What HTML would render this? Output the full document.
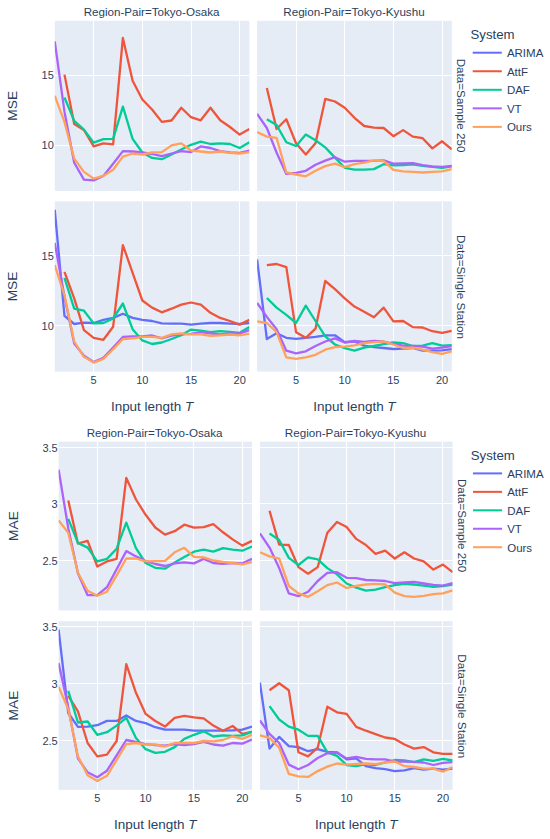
<!DOCTYPE html>
<html><head><meta charset="utf-8"><style>
html,body{margin:0;padding:0;background:#fff;}
svg{display:block;}
text{font-family:"Liberation Sans",sans-serif;}
</style></head><body>
<svg width="550" height="839" viewBox="0 0 550 839">
<rect width="550" height="839" fill="#fff"/>
<rect x="54.75" y="20.80" width="194.65" height="170.10" fill="#E5ECF6"/>
<rect x="93" y="20.80" width="1" height="170.10" fill="#fff"/>
<rect x="142" y="20.80" width="1" height="170.10" fill="#fff"/>
<rect x="191" y="20.80" width="1" height="170.10" fill="#fff"/>
<rect x="239" y="20.80" width="1" height="170.10" fill="#fff"/>
<rect x="54.75" y="75" width="194.65" height="1" fill="#fff"/>
<rect x="54.75" y="145" width="194.65" height="1" fill="#fff"/>
<clipPath id="c1"><rect x="54.75" y="20.80" width="194.65" height="170.10"/></clipPath>
<g clip-path="url(#c1)" fill="none" stroke-width="2.3" stroke-linejoin="round">
<polyline points="64.48,74.60 74.22,124.00 83.95,130.00 93.68,146.40 103.41,143.30 113.14,144.30 122.88,37.90 132.61,80.70 142.34,99.50 152.07,109.50 161.81,121.90 171.54,120.50 181.27,107.70 191.00,117.20 200.74,120.30 210.47,107.70 220.20,120.30 229.94,127.00 239.67,134.60 249.40,129.10" stroke="#EF553B"/>
<polyline points="64.48,97.50 74.22,120.90 83.95,129.60 93.68,142.60 103.41,139.20 113.14,138.80 122.88,106.60 132.61,138.80 142.34,152.50 152.07,157.90 161.81,159.20 171.54,154.50 181.27,149.50 191.00,144.80 200.74,141.70 210.47,144.00 220.20,143.30 229.94,144.00 239.67,148.00 249.40,142.30" stroke="#00cc96"/>
<polyline points="54.75,41.40 64.48,111.70 74.22,162.70 83.95,179.60 93.68,180.40 103.41,175.90 113.14,163.70 122.88,151.10 132.61,151.50 142.34,152.50 152.07,154.00 161.81,156.20 171.54,153.50 181.27,151.10 191.00,152.10 200.74,146.40 210.47,148.00 220.20,151.10 229.94,152.50 239.67,152.90 249.40,150.50" stroke="#ab63fa"/>
<polyline points="54.75,95.80 64.48,121.90 74.22,158.60 83.95,171.90 93.68,178.60 103.41,175.90 113.14,169.80 122.88,156.60 132.61,153.50 142.34,154.50 152.07,152.50 161.81,152.10 171.54,145.40 181.27,143.30 191.00,150.50 200.74,151.50 210.47,152.50 220.20,151.50 229.94,152.90 239.67,153.50 249.40,152.10" stroke="#FFA15A"/>
</g>
<rect x="257.10" y="20.80" width="194.70" height="170.10" fill="#E5ECF6"/>
<rect x="296" y="20.80" width="1" height="170.10" fill="#fff"/>
<rect x="344" y="20.80" width="1" height="170.10" fill="#fff"/>
<rect x="393" y="20.80" width="1" height="170.10" fill="#fff"/>
<rect x="442" y="20.80" width="1" height="170.10" fill="#fff"/>
<rect x="257.10" y="75" width="194.70" height="1" fill="#fff"/>
<rect x="257.10" y="145" width="194.70" height="1" fill="#fff"/>
<clipPath id="c2"><rect x="257.10" y="20.80" width="194.70" height="170.10"/></clipPath>
<g clip-path="url(#c2)" fill="none" stroke-width="2.3" stroke-linejoin="round">
<polyline points="266.84,87.90 276.57,129.00 286.31,119.30 296.04,143.30 305.78,154.50 315.51,143.30 325.25,98.90 334.98,101.50 344.72,107.70 354.45,117.80 364.19,126.00 373.92,127.60 383.66,128.00 393.39,136.20 403.12,130.10 412.86,136.60 422.60,138.20 432.33,148.40 442.06,141.30 451.80,149.40" stroke="#EF553B"/>
<polyline points="266.84,119.30 276.57,125.00 286.31,142.30 296.04,146.00 305.78,134.60 315.51,140.30 325.25,147.40 334.98,157.60 344.72,167.80 354.45,169.60 364.19,169.60 373.92,169.10 383.66,164.20 393.39,165.30 403.12,165.00 412.86,164.40 422.60,165.80 432.33,166.80 442.06,167.80 451.80,166.40" stroke="#00cc96"/>
<polyline points="257.10,113.80 266.84,128.00 276.57,152.50 286.31,173.90 296.04,172.90 305.78,170.80 315.51,164.70 325.25,160.60 334.98,157.20 344.72,161.70 354.45,160.90 364.19,160.90 373.92,160.90 383.66,160.40 393.39,163.60 403.12,163.30 412.86,163.10 422.60,165.20 432.33,166.40 442.06,166.80 451.80,165.80" stroke="#ab63fa"/>
<polyline points="257.10,132.10 266.84,136.60 276.57,137.80 286.31,172.50 296.04,174.50 305.78,176.30 315.51,170.80 325.25,166.10 334.98,163.70 344.72,167.20 354.45,164.20 364.19,162.70 373.92,160.30 383.66,161.00 393.39,169.80 403.12,171.30 412.86,171.90 422.60,172.50 432.33,171.90 442.06,171.30 451.80,169.20" stroke="#FFA15A"/>
</g>
<rect x="54.75" y="201.30" width="194.65" height="170.30" fill="#E5ECF6"/>
<rect x="93" y="201.30" width="1" height="170.30" fill="#fff"/>
<rect x="142" y="201.30" width="1" height="170.30" fill="#fff"/>
<rect x="191" y="201.30" width="1" height="170.30" fill="#fff"/>
<rect x="239" y="201.30" width="1" height="170.30" fill="#fff"/>
<rect x="54.75" y="255" width="194.65" height="1" fill="#fff"/>
<rect x="54.75" y="325" width="194.65" height="1" fill="#fff"/>
<clipPath id="c3"><rect x="54.75" y="201.30" width="194.65" height="170.30"/></clipPath>
<g clip-path="url(#c3)" fill="none" stroke-width="2.3" stroke-linejoin="round">
<polyline points="54.75,209.80 64.48,315.80 74.22,324.00 83.95,322.60 93.68,323.00 103.41,319.90 113.14,317.90 122.88,313.80 132.61,317.90 142.34,319.90 152.07,321.00 161.81,323.40 171.54,323.60 181.27,323.60 191.00,324.60 200.74,323.60 210.47,323.00 220.20,323.00 229.94,323.60 239.67,324.00 249.40,323.00" stroke="#636efa"/>
<polyline points="64.48,271.80 74.22,298.40 83.95,330.20 93.68,337.80 103.41,339.80 113.14,326.70 122.88,245.10 132.61,272.80 142.34,300.50 152.07,307.60 161.81,312.30 171.54,308.70 181.27,304.60 191.00,302.50 200.74,304.60 210.47,312.80 220.20,317.90 229.94,321.00 239.67,324.60 249.40,319.90" stroke="#EF553B"/>
<polyline points="64.48,277.90 74.22,308.70 83.95,310.70 93.68,323.40 103.41,323.00 113.14,318.50 122.88,303.50 132.61,329.20 142.34,340.40 152.07,344.00 161.81,342.50 171.54,339.00 181.27,335.30 191.00,329.60 200.74,330.60 210.47,332.20 220.20,331.20 229.94,331.80 239.67,332.80 249.40,327.10" stroke="#00cc96"/>
<polyline points="54.75,243.00 64.48,296.40 74.22,343.50 83.95,355.80 93.68,362.00 103.41,357.90 113.14,347.60 122.88,337.00 132.61,336.30 142.34,336.30 152.07,335.50 161.81,338.40 171.54,335.70 181.27,334.30 191.00,333.90 200.74,332.20 210.47,333.30 220.20,334.30 229.94,333.30 239.67,333.30 249.40,330.20" stroke="#ab63fa"/>
<polyline points="54.75,265.20 64.48,295.30 74.22,341.50 83.95,356.80 93.68,362.60 103.41,358.90 113.14,349.20 122.88,339.00 132.61,338.40 142.34,336.90 152.07,336.90 161.81,337.80 171.54,334.30 181.27,333.30 191.00,334.30 200.74,334.30 210.47,335.90 220.20,335.30 229.94,334.50 239.67,335.30 249.40,333.70" stroke="#FFA15A"/>
</g>
<rect x="257.10" y="201.30" width="194.70" height="170.30" fill="#E5ECF6"/>
<rect x="296" y="201.30" width="1" height="170.30" fill="#fff"/>
<rect x="344" y="201.30" width="1" height="170.30" fill="#fff"/>
<rect x="393" y="201.30" width="1" height="170.30" fill="#fff"/>
<rect x="442" y="201.30" width="1" height="170.30" fill="#fff"/>
<rect x="257.10" y="255" width="194.70" height="1" fill="#fff"/>
<rect x="257.10" y="325" width="194.70" height="1" fill="#fff"/>
<clipPath id="c4"><rect x="257.10" y="201.30" width="194.70" height="170.30"/></clipPath>
<g clip-path="url(#c4)" fill="none" stroke-width="2.3" stroke-linejoin="round">
<polyline points="257.10,259.50 266.84,339.00 276.57,333.30 286.31,337.80 296.04,338.80 305.78,337.80 315.51,336.90 325.25,335.30 334.98,335.30 344.72,342.10 354.45,341.50 364.19,345.60 373.92,347.20 383.66,348.00 393.39,349.00 403.12,348.60 412.86,348.00 422.60,350.70 432.33,350.70 442.06,350.30 451.80,349.20" stroke="#636efa"/>
<polyline points="266.84,265.20 276.57,264.00 286.31,267.20 296.04,332.20 305.78,337.80 315.51,328.70 325.25,281.00 334.98,289.20 344.72,298.40 354.45,306.60 364.19,311.70 373.92,317.30 383.66,307.60 393.39,321.40 403.12,321.00 412.86,327.10 422.60,327.50 432.33,331.20 442.06,332.80 451.80,330.80" stroke="#EF553B"/>
<polyline points="266.84,298.00 276.57,307.60 286.31,314.80 296.04,323.00 305.78,305.60 315.51,321.00 325.25,336.30 334.98,344.50 344.72,348.20 354.45,350.70 364.19,347.60 373.92,346.00 383.66,344.10 393.39,342.50 403.12,343.10 412.86,346.00 422.60,345.60 432.33,343.10 442.06,345.60 451.80,345.10" stroke="#00cc96"/>
<polyline points="257.10,302.90 266.84,316.90 276.57,329.20 286.31,350.70 296.04,353.30 305.78,351.30 315.51,346.00 325.25,341.50 334.98,338.40 344.72,342.50 354.45,341.00 364.19,341.90 373.92,341.00 383.66,341.50 393.39,343.90 403.12,345.60 412.86,346.00 422.60,346.60 432.33,348.60 442.06,347.60 451.80,346.00" stroke="#ab63fa"/>
<polyline points="257.10,321.40 266.84,323.00 276.57,332.20 286.31,357.40 296.04,358.90 305.78,357.40 315.51,354.80 325.25,349.70 334.98,347.20 344.72,346.60 354.45,345.30 364.19,343.10 373.92,342.10 383.66,341.50 393.39,344.50 403.12,348.00 412.86,347.60 422.60,349.70 432.33,352.10 442.06,353.80 451.80,351.30" stroke="#FFA15A"/>
</g>
<g fill="#2a3f5f" font-family="Liberation Sans">
<text x="151.57" y="15.80" font-size="11.5" text-anchor="middle" textLength="135.8" lengthAdjust="spacingAndGlyphs">Region-Pair=Tokyo-Osaka</text>
<text x="353.95" y="15.80" font-size="11.5" text-anchor="middle" textLength="141.4" lengthAdjust="spacingAndGlyphs">Region-Pair=Tokyo-Kyushu</text>
<text x="17.40" y="105.85" font-size="13" text-anchor="middle" textLength="29.8" lengthAdjust="spacingAndGlyphs" transform="rotate(-90 17.40 105.85)">MSE</text>
<text x="17.40" y="286.45" font-size="13" text-anchor="middle" textLength="29.8" lengthAdjust="spacingAndGlyphs" transform="rotate(-90 17.40 286.45)">MSE</text>
<text x="53.85" y="79.40" font-size="11" text-anchor="end">15</text>
<text x="53.85" y="149.35" font-size="11" text-anchor="end">10</text>
<text x="53.85" y="259.90" font-size="11" text-anchor="end">15</text>
<text x="53.85" y="329.85" font-size="11" text-anchor="end">10</text>
<text x="93.68" y="384.30" font-size="11" text-anchor="middle">5</text>
<text x="142.34" y="384.30" font-size="11" text-anchor="middle">10</text>
<text x="191.00" y="384.30" font-size="11" text-anchor="middle">15</text>
<text x="239.67" y="384.30" font-size="11" text-anchor="middle">20</text>
<text x="296.04" y="384.30" font-size="11" text-anchor="middle">5</text>
<text x="344.72" y="384.30" font-size="11" text-anchor="middle">10</text>
<text x="393.39" y="384.30" font-size="11" text-anchor="middle">15</text>
<text x="442.06" y="384.30" font-size="11" text-anchor="middle">20</text>
<text x="152.07" y="411.20" font-size="13" text-anchor="middle" textLength="82.3" lengthAdjust="spacingAndGlyphs">Input length <tspan font-style="italic">T</tspan></text>
<text x="354.45" y="411.20" font-size="13" text-anchor="middle" textLength="82.3" lengthAdjust="spacingAndGlyphs">Input length <tspan font-style="italic">T</tspan></text>
<text x="456.80" y="105.55" font-size="11.5" text-anchor="middle" textLength="93.8" lengthAdjust="spacingAndGlyphs" transform="rotate(90 456.80 105.55)">Data=Sample 250</text>
<text x="456.80" y="287.05" font-size="11.5" text-anchor="middle" textLength="104.2" lengthAdjust="spacingAndGlyphs" transform="rotate(90 456.80 287.05)">Data=Single Station</text>
<text x="470.50" y="38.70" font-size="13" textLength="44" lengthAdjust="spacingAndGlyphs">System</text>
</g>
<line x1="472.70" y1="52.70" x2="501.80" y2="52.70" stroke="#636efa" stroke-width="2"/>
<text x="506.90" y="57.20" font-size="11.5" fill="#2a3f5f" font-family="Liberation Sans">ARIMA</text>
<line x1="472.70" y1="71.25" x2="501.80" y2="71.25" stroke="#EF553B" stroke-width="2"/>
<text x="506.90" y="75.75" font-size="11.5" fill="#2a3f5f" font-family="Liberation Sans">AttF</text>
<line x1="472.70" y1="89.80" x2="501.80" y2="89.80" stroke="#00cc96" stroke-width="2"/>
<text x="506.90" y="94.30" font-size="11.5" fill="#2a3f5f" font-family="Liberation Sans">DAF</text>
<line x1="472.70" y1="108.35" x2="501.80" y2="108.35" stroke="#ab63fa" stroke-width="2"/>
<text x="506.90" y="112.85" font-size="11.5" fill="#2a3f5f" font-family="Liberation Sans">VT</text>
<line x1="472.70" y1="126.90" x2="501.80" y2="126.90" stroke="#FFA15A" stroke-width="2"/>
<text x="506.90" y="131.40" font-size="11.5" fill="#2a3f5f" font-family="Liberation Sans">Ours</text>
<rect x="58.60" y="441.60" width="193.40" height="168.90" fill="#E5ECF6"/>
<rect x="97" y="441.60" width="1" height="168.90" fill="#fff"/>
<rect x="145" y="441.60" width="1" height="168.90" fill="#fff"/>
<rect x="193" y="441.60" width="1" height="168.90" fill="#fff"/>
<rect x="242" y="441.60" width="1" height="168.90" fill="#fff"/>
<rect x="58.60" y="447" width="193.40" height="1" fill="#fff"/>
<rect x="58.60" y="503" width="193.40" height="1" fill="#fff"/>
<rect x="58.60" y="560" width="193.40" height="1" fill="#fff"/>
<clipPath id="c5"><rect x="58.60" y="441.60" width="193.40" height="168.90"/></clipPath>
<g clip-path="url(#c5)" fill="none" stroke-width="2.3" stroke-linejoin="round">
<polyline points="68.27,500.50 77.94,543.50 87.61,540.90 97.28,566.50 106.95,561.40 116.62,558.90 126.29,477.90 135.96,499.50 145.63,514.80 155.30,527.50 164.97,534.70 174.64,531.20 184.31,524.70 193.98,527.70 203.65,527.10 213.32,524.10 222.99,532.30 232.66,539.40 242.33,545.60 252.00,540.90" stroke="#EF553B"/>
<polyline points="68.27,518.90 77.94,542.90 87.61,547.60 97.28,561.40 106.95,558.90 116.62,548.70 126.29,522.60 135.96,548.20 145.63,563.00 155.30,567.80 164.97,568.70 174.64,562.60 184.31,556.90 193.98,551.70 203.65,549.70 213.32,551.70 222.99,548.20 232.66,549.70 242.33,550.70 252.00,546.60" stroke="#00cc96"/>
<polyline points="58.60,469.70 68.27,528.20 77.94,573.30 87.61,595.20 97.28,595.20 106.95,587.20 116.62,569.20 126.29,551.10 135.96,556.40 145.63,561.00 155.30,564.00 164.97,566.00 174.64,563.40 184.31,562.40 193.98,563.40 203.65,558.90 213.32,563.00 222.99,563.80 232.66,563.00 242.33,563.30 252.00,558.90" stroke="#ab63fa"/>
<polyline points="58.60,520.40 68.27,532.70 77.94,572.80 87.61,590.70 97.28,595.80 106.95,591.70 116.62,575.30 126.29,558.50 135.96,558.50 145.63,561.40 155.30,561.20 164.97,560.80 174.64,552.30 184.31,547.80 193.98,556.90 203.65,557.30 213.32,560.50 222.99,562.00 232.66,563.00 242.33,564.40 252.00,562.00" stroke="#FFA15A"/>
</g>
<rect x="259.90" y="441.60" width="192.70" height="168.90" fill="#E5ECF6"/>
<rect x="298" y="441.60" width="1" height="168.90" fill="#fff"/>
<rect x="346" y="441.60" width="1" height="168.90" fill="#fff"/>
<rect x="394" y="441.60" width="1" height="168.90" fill="#fff"/>
<rect x="442" y="441.60" width="1" height="168.90" fill="#fff"/>
<rect x="259.90" y="447" width="192.70" height="1" fill="#fff"/>
<rect x="259.90" y="503" width="192.70" height="1" fill="#fff"/>
<rect x="259.90" y="560" width="192.70" height="1" fill="#fff"/>
<clipPath id="c6"><rect x="259.90" y="441.60" width="192.70" height="168.90"/></clipPath>
<g clip-path="url(#c6)" fill="none" stroke-width="2.3" stroke-linejoin="round">
<polyline points="269.53,510.70 279.17,544.60 288.81,545.00 298.44,567.10 308.07,573.70 317.71,567.10 327.34,532.70 336.98,522.00 346.62,527.10 356.25,538.90 365.88,545.00 375.52,553.80 385.15,550.70 394.79,558.50 404.43,552.30 414.06,558.50 423.69,561.40 433.33,569.60 442.97,564.60 452.60,572.20" stroke="#EF553B"/>
<polyline points="269.53,533.50 279.17,540.00 288.81,557.90 298.44,565.00 308.07,557.30 317.71,559.30 327.34,568.10 336.98,574.30 346.62,583.50 356.25,587.60 365.88,590.70 375.52,589.70 385.15,587.20 394.79,585.10 404.43,583.90 414.06,584.50 423.69,585.60 433.33,586.80 442.97,586.00 452.60,584.50" stroke="#00cc96"/>
<polyline points="259.90,533.30 269.53,547.60 279.17,568.10 288.81,593.30 298.44,596.20 308.07,591.70 317.71,581.00 327.34,572.80 336.98,572.20 346.62,577.80 356.25,578.10 365.88,580.00 375.52,580.40 385.15,581.00 394.79,583.10 404.43,582.50 414.06,581.90 423.69,583.50 433.33,584.90 442.97,585.60 452.60,583.10" stroke="#ab63fa"/>
<polyline points="259.90,552.30 269.53,556.40 279.17,558.50 288.81,586.00 298.44,593.30 308.07,596.80 317.71,591.30 327.34,585.10 336.98,582.50 346.62,588.00 356.25,585.80 365.88,584.50 375.52,583.90 385.15,584.50 394.79,592.70 404.43,596.20 414.06,596.80 423.69,595.80 433.33,594.20 442.97,593.30 452.60,590.30" stroke="#FFA15A"/>
</g>
<rect x="58.60" y="621.20" width="193.40" height="168.60" fill="#E5ECF6"/>
<rect x="97" y="621.20" width="1" height="168.60" fill="#fff"/>
<rect x="145" y="621.20" width="1" height="168.60" fill="#fff"/>
<rect x="193" y="621.20" width="1" height="168.60" fill="#fff"/>
<rect x="242" y="621.20" width="1" height="168.60" fill="#fff"/>
<rect x="58.60" y="626" width="193.40" height="1" fill="#fff"/>
<rect x="58.60" y="683" width="193.40" height="1" fill="#fff"/>
<rect x="58.60" y="740" width="193.40" height="1" fill="#fff"/>
<clipPath id="c7"><rect x="58.60" y="621.20" width="193.40" height="168.60"/></clipPath>
<g clip-path="url(#c7)" fill="none" stroke-width="2.3" stroke-linejoin="round">
<polyline points="58.60,629.70 68.27,713.00 77.94,726.80 87.61,726.60 97.28,725.20 106.95,720.90 116.62,720.90 126.29,715.40 135.96,720.90 145.63,723.10 155.30,727.20 164.97,729.70 174.64,729.70 184.31,729.70 193.98,730.70 203.65,730.70 213.32,730.70 222.99,730.70 232.66,730.30 242.33,729.70 252.00,726.60" stroke="#636efa"/>
<polyline points="68.27,695.90 77.94,711.30 87.61,743.00 97.28,756.40 106.95,754.70 116.62,741.00 126.29,664.10 135.96,692.80 145.63,713.90 155.30,721.00 164.97,726.60 174.64,717.80 184.31,715.80 193.98,717.40 203.65,718.40 213.32,725.60 222.99,730.70 232.66,726.00 242.33,733.80 252.00,731.80" stroke="#EF553B"/>
<polyline points="68.27,690.80 77.94,722.50 87.61,721.50 97.28,734.80 106.95,732.20 116.62,725.60 126.29,717.80 135.96,737.90 145.63,749.20 155.30,752.80 164.97,751.80 174.64,747.10 184.31,738.90 193.98,734.80 203.65,731.30 213.32,736.50 222.99,735.40 232.66,735.90 242.33,735.40 252.00,731.80" stroke="#00cc96"/>
<polyline points="58.60,663.10 68.27,707.20 77.94,758.40 87.61,772.30 97.28,777.30 106.95,770.70 116.62,755.30 126.29,740.00 135.96,742.00 145.63,744.10 155.30,745.10 164.97,745.70 174.64,744.10 184.31,745.10 193.98,744.10 203.65,742.00 213.32,744.50 222.99,745.70 232.66,743.00 242.33,743.60 252.00,739.50" stroke="#ab63fa"/>
<polyline points="58.60,686.70 68.27,709.20 77.94,756.40 87.61,775.20 97.28,781.00 106.95,775.80 116.62,760.00 126.29,744.10 135.96,743.00 145.63,744.50 155.30,744.50 164.97,746.50 174.64,743.00 184.31,743.00 193.98,743.00 203.65,741.00 213.32,741.40 222.99,740.00 232.66,736.30 242.33,738.90 252.00,734.80" stroke="#FFA15A"/>
</g>
<rect x="259.90" y="621.20" width="192.70" height="168.60" fill="#E5ECF6"/>
<rect x="298" y="621.20" width="1" height="168.60" fill="#fff"/>
<rect x="346" y="621.20" width="1" height="168.60" fill="#fff"/>
<rect x="394" y="621.20" width="1" height="168.60" fill="#fff"/>
<rect x="442" y="621.20" width="1" height="168.60" fill="#fff"/>
<rect x="259.90" y="626" width="192.70" height="1" fill="#fff"/>
<rect x="259.90" y="683" width="192.70" height="1" fill="#fff"/>
<rect x="259.90" y="740" width="192.70" height="1" fill="#fff"/>
<clipPath id="c8"><rect x="259.90" y="621.20" width="192.70" height="168.60"/></clipPath>
<g clip-path="url(#c8)" fill="none" stroke-width="2.3" stroke-linejoin="round">
<polyline points="259.90,682.60 269.53,748.60 279.17,736.90 288.81,746.10 298.44,747.10 308.07,751.20 317.71,749.20 327.34,751.80 336.98,752.30 346.62,759.40 356.25,758.40 365.88,766.20 375.52,768.20 385.15,769.10 394.79,771.10 404.43,770.30 414.06,768.20 423.69,769.70 433.33,768.70 442.97,769.70 452.60,768.70" stroke="#636efa"/>
<polyline points="269.53,690.30 279.17,683.20 288.81,690.30 298.44,752.30 308.07,756.40 317.71,747.70 327.34,706.70 336.98,712.30 346.62,713.90 356.25,726.90 365.88,730.70 375.52,734.20 385.15,737.50 394.79,738.90 404.43,744.50 414.06,748.60 423.69,747.10 433.33,752.30 442.97,753.90 452.60,753.90" stroke="#EF553B"/>
<polyline points="269.53,706.10 279.17,719.50 288.81,726.60 298.44,729.70 308.07,735.90 317.71,735.90 327.34,752.30 336.98,755.90 346.62,765.00 356.25,766.20 365.88,764.10 375.52,765.00 385.15,762.50 394.79,760.00 404.43,760.50 414.06,762.10 423.69,759.40 433.33,760.90 442.97,758.80 452.60,760.50" stroke="#00cc96"/>
<polyline points="259.90,720.50 269.53,733.80 279.17,743.00 288.81,764.60 298.44,769.30 308.07,765.00 317.71,758.00 327.34,753.30 336.98,752.70 346.62,758.40 356.25,756.80 365.88,758.80 375.52,759.40 385.15,759.40 394.79,761.50 404.43,761.50 414.06,761.90 423.69,762.50 433.33,765.00 442.97,762.90 452.60,762.10" stroke="#ab63fa"/>
<polyline points="259.90,735.40 269.53,737.90 279.17,747.70 288.81,773.80 298.44,776.40 308.07,776.90 317.71,771.10 327.34,766.60 336.98,763.50 346.62,764.60 356.25,764.00 365.88,763.50 375.52,764.10 385.15,762.50 394.79,761.50 404.43,766.20 414.06,767.00 423.69,768.70 433.33,768.70 442.97,771.70 452.60,767.00" stroke="#FFA15A"/>
</g>
<g fill="#2a3f5f" font-family="Liberation Sans">
<text x="154.60" y="436.90" font-size="11.5" text-anchor="middle" textLength="135.8" lengthAdjust="spacingAndGlyphs">Region-Pair=Tokyo-Osaka</text>
<text x="355.55" y="436.90" font-size="11.5" text-anchor="middle" textLength="141.4" lengthAdjust="spacingAndGlyphs">Region-Pair=Tokyo-Kyushu</text>
<text x="17.60" y="526.05" font-size="13" text-anchor="middle" textLength="29.8" lengthAdjust="spacingAndGlyphs" transform="rotate(-90 17.60 526.05)">MAE</text>
<text x="17.60" y="705.50" font-size="13" text-anchor="middle" textLength="29.8" lengthAdjust="spacingAndGlyphs" transform="rotate(-90 17.60 705.50)">MAE</text>
<text x="57.70" y="451.50" font-size="11" text-anchor="end">3.5</text>
<text x="57.70" y="507.90" font-size="11" text-anchor="end">3</text>
<text x="57.70" y="564.90" font-size="11" text-anchor="end">2.5</text>
<text x="57.70" y="631.10" font-size="11" text-anchor="end">3.5</text>
<text x="57.70" y="687.50" font-size="11" text-anchor="end">3</text>
<text x="57.70" y="744.50" font-size="11" text-anchor="end">2.5</text>
<text x="97.28" y="802.30" font-size="11" text-anchor="middle">5</text>
<text x="145.63" y="802.30" font-size="11" text-anchor="middle">10</text>
<text x="193.98" y="802.30" font-size="11" text-anchor="middle">15</text>
<text x="242.33" y="802.30" font-size="11" text-anchor="middle">20</text>
<text x="298.44" y="802.30" font-size="11" text-anchor="middle">5</text>
<text x="346.62" y="802.30" font-size="11" text-anchor="middle">10</text>
<text x="394.79" y="802.30" font-size="11" text-anchor="middle">15</text>
<text x="442.97" y="802.30" font-size="11" text-anchor="middle">20</text>
<text x="155.30" y="829.20" font-size="13" text-anchor="middle" textLength="82.5" lengthAdjust="spacingAndGlyphs">Input length <tspan font-style="italic">T</tspan></text>
<text x="356.25" y="829.20" font-size="13" text-anchor="middle" textLength="82.5" lengthAdjust="spacingAndGlyphs">Input length <tspan font-style="italic">T</tspan></text>
<text x="457.50" y="525.55" font-size="11.5" text-anchor="middle" textLength="93.2" lengthAdjust="spacingAndGlyphs" transform="rotate(90 457.50 525.55)">Data=Sample 250</text>
<text x="457.50" y="706.30" font-size="11.5" text-anchor="middle" textLength="104.2" lengthAdjust="spacingAndGlyphs" transform="rotate(90 457.50 706.30)">Data=Single Station</text>
<text x="470.80" y="460.00" font-size="13" textLength="44" lengthAdjust="spacingAndGlyphs">System</text>
</g>
<line x1="473.00" y1="473.40" x2="502.10" y2="473.40" stroke="#636efa" stroke-width="2"/>
<text x="507.20" y="477.90" font-size="11.5" fill="#2a3f5f" font-family="Liberation Sans">ARIMA</text>
<line x1="473.00" y1="491.85" x2="502.10" y2="491.85" stroke="#EF553B" stroke-width="2"/>
<text x="507.20" y="496.35" font-size="11.5" fill="#2a3f5f" font-family="Liberation Sans">AttF</text>
<line x1="473.00" y1="510.30" x2="502.10" y2="510.30" stroke="#00cc96" stroke-width="2"/>
<text x="507.20" y="514.80" font-size="11.5" fill="#2a3f5f" font-family="Liberation Sans">DAF</text>
<line x1="473.00" y1="528.75" x2="502.10" y2="528.75" stroke="#ab63fa" stroke-width="2"/>
<text x="507.20" y="533.25" font-size="11.5" fill="#2a3f5f" font-family="Liberation Sans">VT</text>
<line x1="473.00" y1="547.20" x2="502.10" y2="547.20" stroke="#FFA15A" stroke-width="2"/>
<text x="507.20" y="551.70" font-size="11.5" fill="#2a3f5f" font-family="Liberation Sans">Ours</text>
</svg>
</body></html>
